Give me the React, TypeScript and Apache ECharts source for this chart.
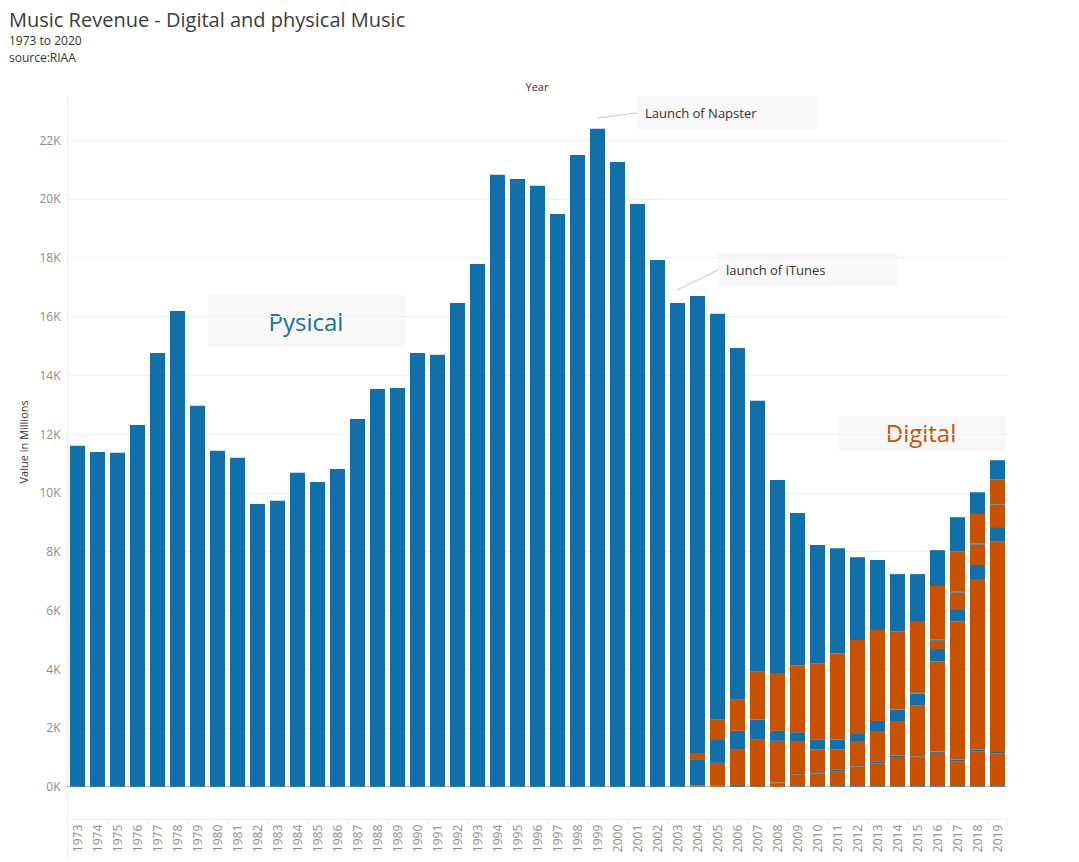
import React, { useEffect, useRef } from "react";
import * as echarts from "echarts";

// US recorded music revenue (USD millions), stacked by format group.
const years = [
  "1973", "1974", "1975", "1976", "1977", "1978", "1979", "1980", "1981", "1982",
  "1983", "1984", "1985", "1986", "1987", "1988", "1989", "1990", "1991", "1992",
  "1993", "1994", "1995", "1996", "1997", "1998", "1999", "2000", "2001", "2002",
  "2003", "2004", "2005", "2006", "2007", "2008", "2009", "2010", "2011", "2012",
  "2013", "2014", "2015", "2016", "2017", "2018", "2019",
];

// 1973–2003: physical formats only
const physicalOnly = [
  11600, 11390, 11360, 12310, 14760, 16190, 12960, 11430, 11190, 9620,
  9730, 10680, 10370, 10810, 12510, 13530, 13570, 14760, 14700, 16460,
  17790, 20820, 20680, 20450, 19490, 21500, 22390, 21260, 19830, 17920,
  16460,
];

// 2004–2019: stacked segments, bottom to top
const digitalSeg0 = [50, 20, 0, 20, 100, 0, 0, 0, 0, 0, 0, 0, 0, 0, 0, 0];
const physicalSeg1 = [0, 30, 60, 40, 40, 20, 20, 20, 20, 20, 20, 20, 20, 20, 20, 20];
const digitalSeg2 = [0, 760, 1220, 1560, 1420, 400, 430, 510, 670, 780, 990, 1010, 1130, 850, 1190, 1120];
const physicalSeg3 = [860, 810, 620, 660, 340, 45, 45, 45, 45, 45, 45, 45, 45, 45, 45, 45];
const digitalSeg4 = [240, 660, 1080, 1630, 1970, 1060, 780, 700, 790, 1050, 1180, 1700, 3060, 4700, 5810, 7150];
const physicalSeg5 = [0, 0, 0, 0, 0, 330, 340, 320, 300, 340, 380, 400, 430, 430, 480, 500];
const digitalSeg6 = [0, 0, 0, 0, 0, 2280, 2590, 2950, 3170, 3100, 2660, 40, 280, 560, 690, 770];
const physicalSeg7 = [0, 0, 0, 0, 0, 0, 0, 0, 0, 0, 0, 40, 45, 45, 45, 45];
const digitalSeg8 = [0, 0, 0, 0, 0, 0, 0, 0, 0, 0, 0, 2380, 1820, 1360, 1000, 810];
const physicalTop = [15550, 13810, 11950, 9220, 6570, 5180, 4020, 3570, 2810, 2380, 1960, 1600, 1220, 1160, 740, 650];

const yTicks = [0, 2000, 4000, 6000, 8000, 10000, 12000, 14000, 16000, 18000, 20000, 22000];

const PHYSICAL = "#1170aa";
const DIGITAL = "#c85200";
const FONT = "'Open Sans', sans-serif";

const beforeDigital = physicalOnly.map(() => 0);
const withLead = (seg: number[]) => [...beforeDigital, ...seg];

const layers = [
  { name: "Digital", color: DIGITAL, data: withLead(digitalSeg0) },
  { name: "Physical", color: PHYSICAL, data: withLead(physicalSeg1) },
  { name: "Digital", color: DIGITAL, data: withLead(digitalSeg2) },
  { name: "Physical", color: PHYSICAL, data: withLead(physicalSeg3) },
  { name: "Digital", color: DIGITAL, data: withLead(digitalSeg4) },
  { name: "Physical", color: PHYSICAL, data: withLead(physicalSeg5) },
  { name: "Digital", color: DIGITAL, data: withLead(digitalSeg6) },
  { name: "Physical", color: PHYSICAL, data: withLead(physicalSeg7) },
  { name: "Digital", color: DIGITAL, data: withLead(digitalSeg8) },
  { name: "Physical", color: PHYSICAL, data: [...physicalOnly, ...physicalTop] },
];

export default function App() {
  const ref = useRef<HTMLDivElement>(null);

  useEffect(() => {
    if (!ref.current) return;
    const chart = echarts.init(ref.current, undefined, { renderer: "svg" });
    const yMax = 23470;
    // grid lines on every labelled tick, none at the extent top
    const splitColors = yTicks.map(() => "#efefef").concat(["rgba(0,0,0,0)"]);

    chart.setOption({
      animation: false,
      backgroundColor: "#ffffff",
      title: {
        text: "Music Revenue - Digital and physical Music",
        subtext: "1973 to 2020\nsource:RIAA",
        left: 4,
        top: 4,
        itemGap: 3,
        textStyle: { fontFamily: FONT, fontSize: 20, fontWeight: "normal", color: "#3c3c3c" },
        subtextStyle: { fontFamily: FONT, fontSize: 12, color: "#333", lineHeight: 17 },
      },
      grid: { left: 67.5, right: 71.5, top: 97, bottom: 75.3, containLabel: false },
      xAxis: [
        {
          type: "category",
          data: years,
          axisLine: { show: true, lineStyle: { color: "#b5b5b5", type: "dotted", width: 1 } },
          axisTick: { show: false },
          axisLabel: { rotate: 90, margin: 38, color: "#8c8c8c", fontSize: 12, fontFamily: FONT, interval: 0 },
          splitLine: { show: false },
        },
        {
          type: "category",
          data: years,
          position: "bottom",
          offset: 33,
          axisLine: { show: true, lineStyle: { color: "#ececec" } },
          axisTick: { show: true, length: 5, lineStyle: { color: "#ececec" } },
          axisLabel: { show: false },
        },
      ],
      yAxis: {
        type: "value",
        min: 0,
        max: yMax,
        interval: 2000,
        name: "Value in Millions",
        nameLocation: "middle",
        nameRotate: 90,
        nameGap: 38,
        nameTextStyle: { color: "#333", fontSize: 11, fontFamily: FONT },
        axisLine: { show: true, lineStyle: { color: "#ececec" } },
        axisTick: { show: false },
        axisLabel: {
          color: "#8c8c8c",
          fontSize: 12,
          fontFamily: FONT,
          margin: 7,
          showMaxLabel: false,
          formatter: (v: number) => (v % 2000 === 0 ? `${v / 1000}K` : ""),
        },
        splitLine: { show: true, lineStyle: { color: splitColors, width: 1 } },
      },
      series: layers.map((l) => ({
        type: "bar",
        name: l.name,
        stack: "total",
        barWidth: 15,
        data: l.data,
        itemStyle: { color: l.color },
        emphasis: { disabled: true },
      })),
      graphic: [
        // axis header frame below the plot
        { type: "line", shape: { x1: 67.5, y1: 787, x2: 67.5, y2: 858 }, style: { stroke: "#ececec", lineWidth: 1 } },
        {
          type: "text",
          x: 537,
          y: 86,
          style: { text: "Year", fill: "#333", font: `11px ${FONT}`, align: "center", verticalAlign: "middle" },
        },
        // Napster annotation
        { type: "line", shape: { x1: 597, y1: 118, x2: 637, y2: 113 }, style: { stroke: "#c8c8c8", lineWidth: 1 } },
        { type: "rect", shape: { x: 637, y: 96, width: 180, height: 33 }, style: { fill: "#f8f8f8" } },
        {
          type: "text",
          x: 645,
          y: 113,
          style: { text: "Launch of Napster", fill: "#333", font: `13px ${FONT}`, verticalAlign: "middle" },
        },
        // iTunes annotation
        { type: "line", shape: { x1: 677, y1: 290, x2: 718, y2: 270 }, style: { stroke: "#c8c8c8", lineWidth: 1 } },
        { type: "rect", shape: { x: 718, y: 253, width: 179, height: 33 }, style: { fill: "#f8f8f8" } },
        {
          type: "text",
          x: 726,
          y: 270,
          style: { text: "launch of iTunes", fill: "#333", font: `13px ${FONT}`, verticalAlign: "middle" },
        },
        // group captions
        { type: "rect", shape: { x: 208, y: 295, width: 197, height: 52 }, style: { fill: "#f8f8f8" } },
        {
          type: "text",
          x: 306,
          y: 321,
          style: { text: "Pysical", fill: PHYSICAL, font: `24px ${FONT}`, align: "center", verticalAlign: "middle" },
        },
        { type: "rect", shape: { x: 839, y: 416, width: 166, height: 35 }, style: { fill: "#f8f8f8" } },
        {
          type: "text",
          x: 921,
          y: 432,
          style: { text: "Digital", fill: DIGITAL, font: `24px ${FONT}`, align: "center", verticalAlign: "middle" },
        },
      ],
    });

    return () => chart.dispose();
  }, []);

  return <div ref={ref} style={{ position: "absolute", left: 0, top: 0, width: 1079, height: 862 }} />;
}
